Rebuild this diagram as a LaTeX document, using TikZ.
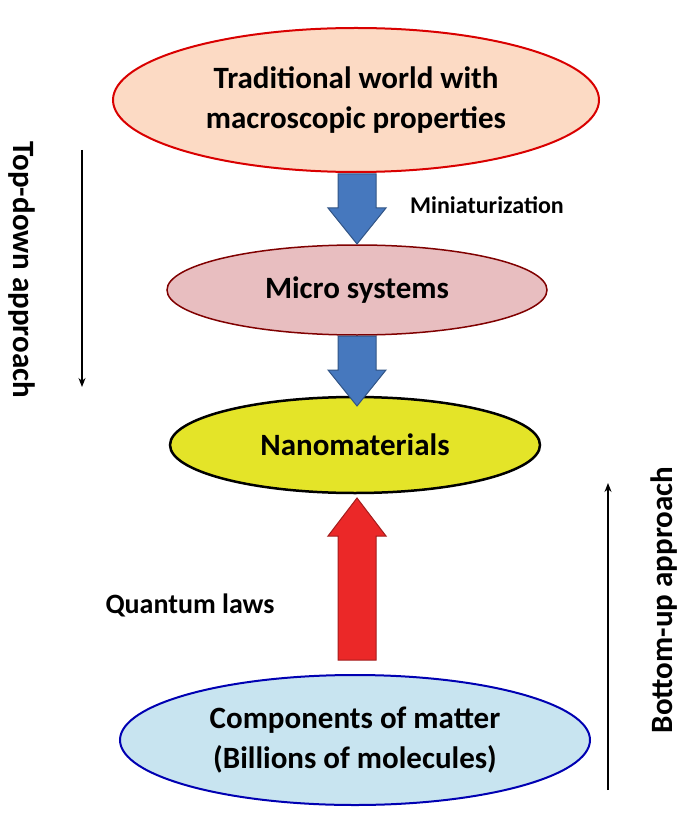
\documentclass[tikz,border=0pt]{standalone}
\usepackage{fontspec}
\setmainfont{Carlito}
\usetikzlibrary{shapes.geometric,arrows.meta}
\definecolor{peach}{RGB}{252,218,196}
\definecolor{pinkf}{RGB}{232,190,192}
\definecolor{yel}{RGB}{228,228,40}
\definecolor{lblue}{RGB}{200,228,240}
\definecolor{barrow}{RGB}{70,120,190}
\definecolor{rarrow}{RGB}{235,40,40}
\tikzset{
 ell/.style={ellipse, draw, line width=2pt, font=\bfseries\fontsize{31}{40}\selectfont, align=center, inner sep=0pt},
 bigarrow/.style={draw=#1!70!black, fill=#1, line width=1pt},
 lab/.style={font=\bfseries\fontsize{#1}{#1}\selectfont}
}
\begin{document}
\begin{tikzpicture}[x=1pt,y=-1pt]
\useasboundingbox (0,0) rectangle (685,818);
\node[ell, draw=red!85!black, fill=peach, minimum width=486pt, minimum height=144pt] (top) at (356,100) {Traditional world with\\macroscopic properties};
\node[ell, draw=red!50!black, line width=1.5pt, fill=pinkf, minimum width=380pt, minimum height=90pt] (micro) at (357,290) {Micro systems};
\node[ell, draw=black, line width=2.5pt, fill=yel, minimum width=370pt, minimum height=96pt] (nano) at (355,445) {Nanomaterials};
\node[ell, draw=blue!70!black, fill=lblue, minimum width=470pt, minimum height=130pt] (comp) at (355,740) {Components of matter\\(Billions of molecules)};
\draw[bigarrow=barrow] (338,174) -- (376,174) -- (376,208) -- (386,208) -- (357,244) -- (328,208) -- (338,208) -- cycle;
\draw[bigarrow=barrow] (338,336) -- (376,336) -- (376,370) -- (386,370) -- (357,406) -- (328,370) -- (338,370) -- cycle;
\draw[bigarrow=rarrow] (338,660) -- (376,660) -- (376,536) -- (386,536) -- (357,498) -- (328,536) -- (338,536) -- cycle;
\node[lab=24] (mini) at (487,205) {Miniaturization};
\node[lab=28] (qlaws) at (190,605) {Quantum laws};
\coordinate (l1) at (82,150); \coordinate (l2) at (82,387);
\draw[line width=1.2pt,-{Stealth[length=9pt,width=7pt]}] (l1) -- (l2);
\coordinate (r1) at (608,790); \coordinate (r2) at (608,483);
\draw[line width=1.2pt,-{Stealth[length=9pt,width=7pt]}] (r1) -- (r2);
\node[lab=31, rotate=-90] (td) at (22,270) {Top-down approach};
\node[lab=31, rotate=90] (bu) at (664,600) {Bottom-up approach};
\end{tikzpicture}
\end{document}
